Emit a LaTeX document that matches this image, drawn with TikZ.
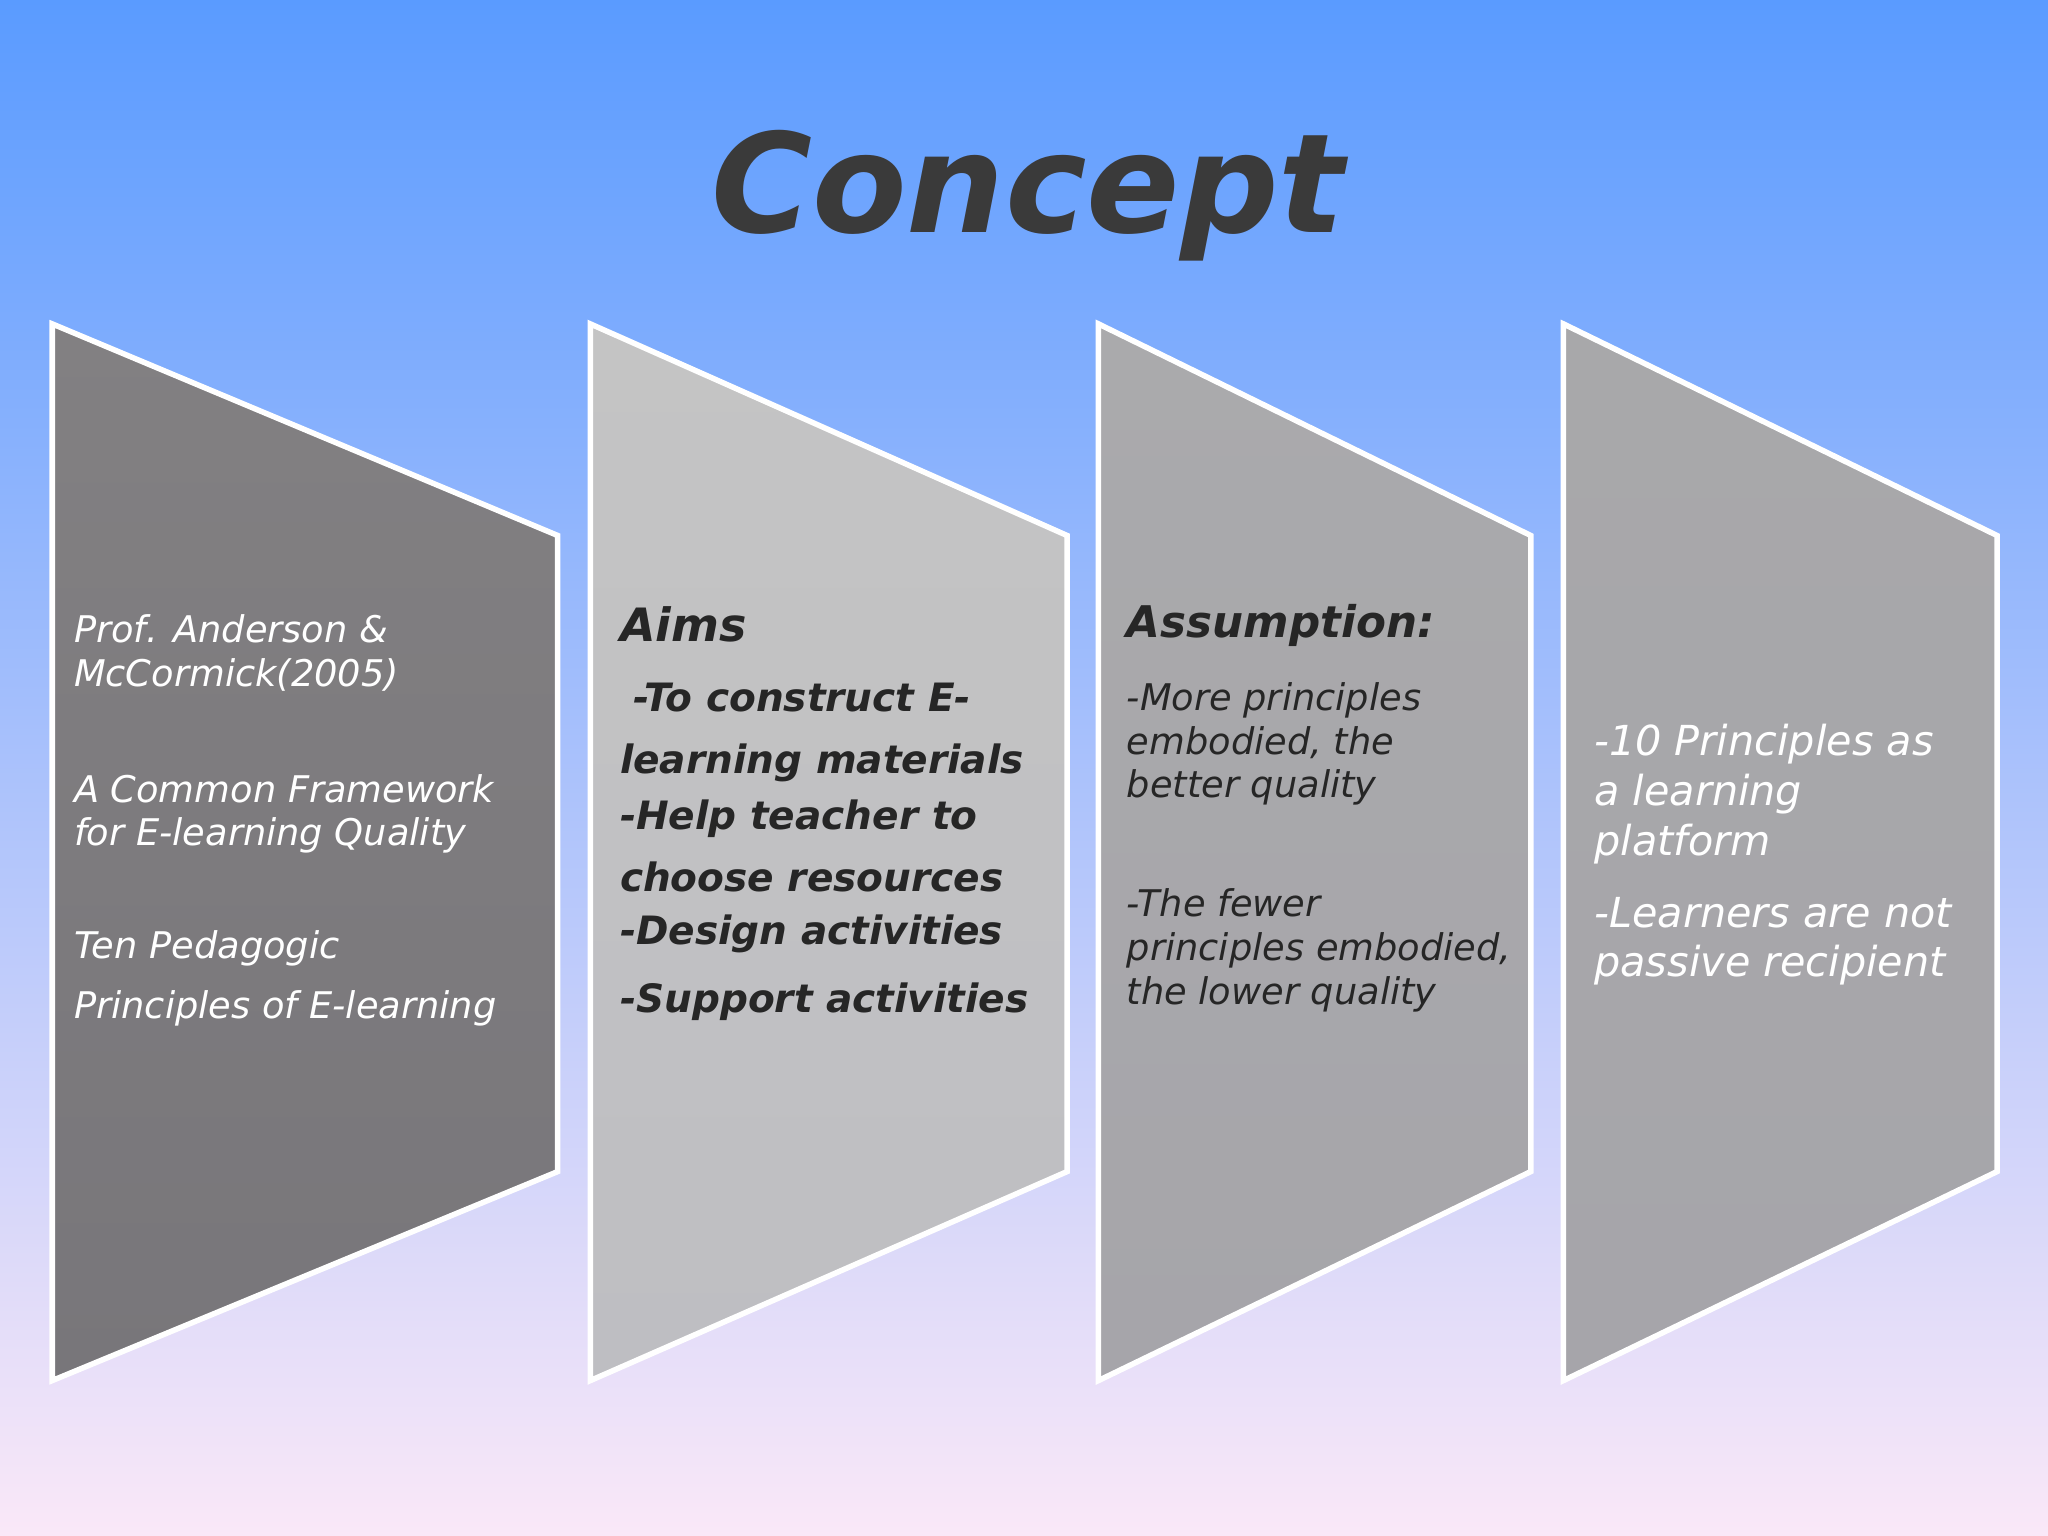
\documentclass[tikz,border=0pt]{standalone}
\usepackage{fontspec}
\setmainfont{DejaVu Sans}
\begin{document}
\begin{tikzpicture}[x=0.01cm,y=-0.01cm,
  panel/.style={draw=white,line width=1.2pt},
  txt/.style={anchor=north west,align=left,font=\fontsize{8}{9.5}\selectfont\itshape,inner sep=0pt},
  btxt/.style={txt,font=\fontsize{8.5}{10.5}\selectfont\bfseries\itshape,text=black!85}]
\shade[top color={rgb,255:red,90;green,155;blue,255},middle color={rgb,255:red,150;green,195;blue,250},bottom color={rgb,255:red,250;green,232;blue,248}] (0,0) rectangle (1568,1176);
\useasboundingbox (0,0) rectangle (1568,1176);
\node[font=\fontsize{30}{34}\selectfont\bfseries\itshape,text={rgb,255:red,58;green,58;blue,58}] (title) at (787,150) {Concept};
\shade[panel,top color={rgb,255:red,130;green,128;blue,130},bottom color={rgb,255:red,120;green,118;blue,122}] (40,248) -- (427,410) -- (427,897) -- (40,1057) -- cycle;
\shade[panel,top color={rgb,255:red,196;green,196;blue,196},bottom color={rgb,255:red,190;green,190;blue,194}] (452,248) -- (817,410) -- (817,897) -- (452,1057) -- cycle;
\shade[panel,top color={rgb,255:red,170;green,170;blue,172},bottom color={rgb,255:red,166;green,165;blue,170}] (841,248) -- (1172,410) -- (1172,897) -- (841,1057) -- cycle;
\shade[panel,top color={rgb,255:red,168;green,168;blue,170},bottom color={rgb,255:red,166;green,165;blue,170}] (1197,248) -- (1529,410) -- (1529,897) -- (1197,1057) -- cycle;
\node[txt,text=white] (t1a) at (56,470) {Prof. Anderson \&\\McCormick(2005)};
\node[txt,text=white] (t1b) at (56,592) {A Common Framework\\for E-learning Quality};
\node[txt,text=white,font=\fontsize{8}{13}\selectfont\itshape] (t1c) at (56,712) {Ten Pedagogic\\Principles of E-learning};
\node[btxt,font=\fontsize{10}{12}\selectfont\bfseries\itshape] (t2a) at (474,464) {Aims};
\node[btxt,font=\fontsize{8.5}{13.5}\selectfont\bfseries\itshape] (t2b) at (474,522) {\ -To construct E-\\learning materials};
\node[btxt,font=\fontsize{8.5}{13.5}\selectfont\bfseries\itshape] (t2c) at (474,612) {-Help teacher to\\choose resources};
\node[btxt] (t2d) at (474,700) {-Design activities};
\node[btxt] (t2e) at (474,752) {-Support activities};
\node[btxt,font=\fontsize{9.5}{12}\selectfont\bfseries\itshape] (t3a) at (862,462) {Assumption:};
\node[txt,text=black!85] (t3b) at (862,522) {-More principles\\embodied, the\\better quality};
\node[txt,text=black!85] (t3c) at (862,680) {-The fewer\\principles embodied,\\the lower quality};
\node[txt,text=white,font=\fontsize{9}{10.8}\selectfont\itshape] (t4a) at (1220,554) {-10 Principles as\\a learning\\platform};
\node[txt,text=white,font=\fontsize{9}{10.8}\selectfont\itshape] (t4b) at (1220,686) {-Learners are not\\passive recipient};
\end{tikzpicture}
\end{document}
